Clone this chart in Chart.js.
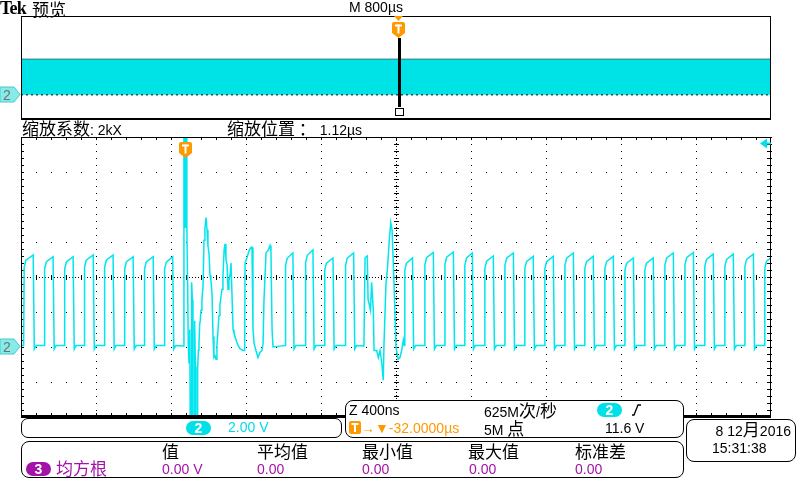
<!DOCTYPE html>
<html>
<head>
<meta charset="utf-8">
<script src="https://cdn.jsdelivr.net/npm/chart.js@4.4.0/dist/chart.umd.min.js"></script>
<style>
  body { margin: 0; width: 800px; height: 480px; background: #fff; overflow: hidden; position: relative;
         font-family: "Liberation Sans", "Noto Sans CJK SC", sans-serif; font-size: 14px; color: #000; }
  canvas { position: absolute; }
  .t { position: absolute; white-space: nowrap; line-height: 18px; height: 18px; }
  .cjk { font-family: "Noto Sans CJK SC", sans-serif; font-size: 17px; }
  .box { position: absolute; border: 1px solid #000; border-radius: 8px; background: #fff; box-sizing: border-box; }
  .pill { position: absolute; border-radius: 7px; color: #fff; font-weight: bold; font-size: 14px;
          text-align: center; line-height: 14px; height: 14px; width: 25px; }
  .cyan { color: #00dce6; }
  .orange { color: #ff9900; }
  .purple { color: #a313a8; }
  svg { position: absolute; overflow: visible; }
</style>
</head>
<body>

<canvas id="preview" width="770" height="123" style="left:11px;top:6px"></canvas>
<canvas id="main" width="770" height="300" style="left:11px;top:127px"></canvas>

<!-- header -->
<div class="t" style="left:0;top:-1px;font-weight:bold;font-size:18px;letter-spacing:-0.8px;font-family:'Liberation Serif',serif">Tek</div>
<div class="t cjk" style="left:32px;top:0">预览</div>
<div class="t" style="left:349px;top:-2px">M 800µs</div>

<div class="t" style="left:22px;top:119px"><span class="cjk">缩放系数</span>: 2kX</div>
<div class="t" style="left:227px;top:119px"><span class="cjk">缩放位置 ：</span> 1.12µs</div>

<!-- channel 2 ground markers -->
<svg style="left:0;top:86px" width="21" height="17">
  <polygon points="0,1 14,1 20,8.5 14,16 0,16" fill="#86ece9" stroke="#4cc9c6"/>
  <text x="3" y="14" font-size="14" font-family="Liberation Sans" fill="#707070">2</text>
</svg>
<svg style="left:0;top:338px" width="21" height="17">
  <polygon points="0,1 14,1 20,8.5 14,16 0,16" fill="#86ece9" stroke="#4cc9c6"/>
  <text x="3" y="14" font-size="14" font-family="Liberation Sans" fill="#707070">2</text>
</svg>

<!-- trigger markers -->
<svg style="left:392px;top:15px" width="14" height="24">
  <polygon points="2,1 11,1 6.5,6" fill="#ff9900"/>
  <path d="M2 7 H11 Q13 7 13 9 V18 L6.5 23 L0 18 V9 Q0 7 2 7 Z" fill="#ff9900"/>
  <rect x="3" y="9.5" width="7" height="2" fill="#fff"/><rect x="5.5" y="9.5" width="2" height="9" fill="#fff"/>
</svg>
<svg style="left:179px;top:142px" width="14" height="17">
  <path d="M2 0 H11 Q13 0 13 2 V11 L6.5 16 L0 11 V2 Q0 0 2 0 Z" fill="#ff9900"/>
  <rect x="3" y="2.5" width="7" height="2" fill="#fff"/><rect x="5.5" y="2.5" width="2" height="9" fill="#fff"/>
</svg>
<svg style="left:759px;top:138px" width="12" height="11">
  <polygon points="1,5.5 8,0.5 8,10.5" fill="#00e0e8"/>
  <rect x="8" y="4.5" width="4" height="2" fill="#00e0e8"/>
</svg>

<!-- info boxes -->
<div class="box" style="left:345px;top:400px;width:339px;height:38px"></div>
<div class="t" style="left:349px;top:401px">Z 400ns</div>
<div class="t" style="left:484px;top:401px">625M<span class="cjk">次</span>/<span class="cjk">秒</span></div>
<div class="pill" style="left:597px;top:403px;background:#00e0e8">2</div>
<svg style="left:630px;top:403px" width="14" height="15">
  <polyline points="2,12 4,12 8,2 11,2" fill="none" stroke="#000" stroke-width="1.3"/>
</svg>
<svg style="left:349px;top:421px" width="12" height="14">
  <rect x="0" y="0" width="12" height="13" rx="2" fill="#ff9900"/>
  <rect x="2.5" y="2" width="7" height="2" fill="#fff"/><rect x="5" y="2" width="2" height="9" fill="#fff"/>
</svg>
<div class="t orange" style="left:361px;top:419px">→▼-32.0000µs</div>
<div class="t" style="left:484px;top:419px">5M <span class="cjk">点</span></div>
<div class="t" style="left:605px;top:419px">11.6 V</div>

<div class="box" style="left:21px;top:418px;width:321px;height:20px;border-radius:7px"></div>
<div class="pill" style="left:186px;top:421px;background:#00e0e8">2</div>
<div class="t cyan" style="left:228px;top:418px">2.00 V</div>

<div class="box" style="left:21px;top:441px;width:663px;height:37px"></div>
<div class="t cjk" style="left:162px;top:442px">值</div>
<div class="t cjk" style="left:257px;top:442px">平均值</div>
<div class="t cjk" style="left:362px;top:442px">最小值</div>
<div class="t cjk" style="left:468px;top:442px">最大值</div>
<div class="t cjk" style="left:575px;top:442px">标准差</div>
<div class="pill" style="left:26px;top:462px;background:#a313a8">3</div>
<div class="t cjk purple" style="left:56px;top:459px">均方根</div>
<div class="t purple" style="left:162px;top:460px">0.00 V</div>
<div class="t purple" style="left:257px;top:460px">0.00</div>
<div class="t purple" style="left:362px;top:460px">0.00</div>
<div class="t purple" style="left:469px;top:460px">0.00</div>
<div class="t purple" style="left:575px;top:460px">0.00</div>

<div class="box" style="left:686px;top:419px;width:110px;height:43px"></div>
<div class="t" style="left:690px;top:420px;width:101px;text-align:right">8 12<span class="cjk">月</span>2016</div>
<div class="t" style="left:712px;top:439px">15:31:38</div>

<script>
// main window: time in ns (400 ns/div), channel 2 in V (2.00 V/div)
const timeTicks = [0, 4000, 400];
const voltTicks = [-4, 12, 2];
const LOW = 0.08;

// regular pulses before the trigger
const preRise = [14, 123, 230, 336, 443, 550, 656, 763];
const preFall = [67, 173, 280, 387, 493, 600, 707, 811];
const preTop = [5.26, 5.16, 5.16, 5.26, 5.26, 5.16, 5.16, 5.15];

// ringing right after the trigger [ns, V]
const burst1 = [
  [867, 0.06], [869, 13], [875, 13], [877, 6.8], [880, 13], [884, 13], [885, 6.9], [889, 3.3],
  [892, 0.2], [896, -0.9], [900, 1.0], [903, -5], [907, -5], [910, 3.7], [914, 2.7], [917, -5],
  [923, -5], [926, 1.5], [930, -1.1], [933, -5], [939, -5], [942, -1.3], [946, -0.2], [949, 0.1],
  [953, 1.3], [956, 1.5], [960, 2.1], [965, 2.7], [971, 3.5], [976, 6.1], [981, 6.8], [987, 7.4],
  [992, 6.7], [997, 5.8], [1003, 5.3], [1008, 4.1], [1013, 3.8], [1019, 3.0], [1024, 0.6], [1029, -0.6],
  [1035, -0.5], [1040, -0.7], [1045, 0.1], [1051, 1.0], [1056, 1.8], [1061, 2.4], [1067, 2.9], [1072, 3.3],
  [1077, 4.0], [1083, 5.5], [1088, 5.9], [1093, 5.0], [1099, 4.7], [1104, 3.3], [1109, 3.8], [1115, 4.1],
  [1120, 4.8], [1125, 4.8], [1131, 1.0], [1136, 0.8], [1147, 0.4], [1157, 0.1], [1168, -0.1], [1184, -0.2],
  [1193, -0.2], [1195, 4.8], [1205, 5.1], [1216, 5.5], [1227, 5.7], [1232, 5.7], [1237, 1.1], [1243, 0.2],
  [1253, -0.2], [1264, -0.6], [1275, -0.3], [1285, -0.2], [1291, 0.2], [1296, 2.7], [1307, 5.4], [1317, 5.5],
  [1328, 5.8], [1333, 5.5], [1339, 1.0], [1344, 0.0], [1381, 0.05]
];

const midRise = [1408, 1515, 1617, 1728];
const midFall = [1452, 1559, 1666, 1776];
const midTop = [5.37, 5.54, 5.09, 5.37];

// second disturbance [ns, V]
const burst2 = [
  [1829, 0.06], [1835, 5.1], [1847, 5.2], [1851, 2.7], [1856, 2.5], [1864, 2.1], [1870, 3.7], [1879, 2.1],
  [1883, -0.2], [1897, -0.2], [1906, -0.6], [1915, -0.2], [1924, -0.9], [1932, -1.9], [1936, 0.2], [1947, 3.7],
  [1954, 4.4], [1964, 6.1], [1972, 7.1], [1979, 6.7], [1989, 3.8], [2000, 0.0], [2011, -0.7], [2021, -0.6],
  [2030, -0.2], [2039, 0.4]
];

const postRise = [2044, 2151, 2258, 2364, 2471, 2578, 2684, 2791, 2898, 3004, 3111, 3218, 3324, 3431, 3538, 3644, 3751, 3858, 3964];
const postFall = [2090, 2201, 2308, 2409, 2521, 2628, 2734, 2841, 2948, 3054, 3161, 3268, 3374, 3481, 3588, 3694, 3801, 3908, 4014];
const postTop = [5.09, 5.4, 5.43, 5.37, 5.2, 5.37, 5.18, 5.18, 5.37, 5.18, 5.18, 5.09, 5.09, 5.37, 5.4, 5.31, 5.31, 5.31, 5.2];

// preview (800 µs/div, whole record shown as an envelope)
const previewMs = [0, 8];
const previewHigh = [5.3, 5.3];
const previewLow = [-0.25, -0.25];
const zoomWindowMs = [4.035, 4.04];

function pushPulses(pts, rises, falls, tops) {
  rises.forEach((r, i) => {
    const f = falls[i], top = tops[i];
    pts.push({x: r, y: LOW}, {x: r + 3, y: top - 0.7}, {x: r + 12, y: top - 0.3},
             {x: f - 2, y: top}, {x: f + 4, y: LOW - 0.2}, {x: f + 14, y: LOW});
  });
}
const pushPoints = (pts, list) => list.forEach(([x, y]) => pts.push({x, y}));

const trace = [{x: 0, y: LOW}];
pushPulses(trace, preRise, preFall, preTop);
pushPoints(trace, burst1);
pushPulses(trace, midRise, midFall, midTop);
pushPoints(trace, burst2);
pushPulses(trace, postRise, postFall, postTop);

const CYAN = '#00e5ee';

/**
 * Tek style graticule: dense centre lines, ticks and frame
 */
const graticule = {
  id: 'graticule',
  beforeDatasetsDraw(chart) {
    const {ctx, chartArea: a, scales: {x, y}} = chart;
    const cx = Math.round(x.getPixelForValue(2000));
    const cy = Math.round(y.getPixelForValue(4));
    const stepX = (a.right - a.left) / 50, stepY = (a.bottom - a.top) / 40;
    ctx.save();
    ctx.fillStyle = '#000';
    for (let px = a.left; px < a.right; px += 3) ctx.fillRect(Math.round(px), cy, 1, 1);
    for (let py = a.top; py < a.bottom; py += 3) ctx.fillRect(cx, Math.round(py), 1, 1);
    for (let i = 1; i < 50; i++) {
      const px = Math.round(a.left + i * stepX);
      ctx.fillRect(px, cy - 2, 1, 5);
      ctx.fillRect(px, a.top, 1, 3);
      ctx.fillRect(px, a.bottom - 4, 1, 3);
    }
    for (let i = 1; i < 40; i++) {
      const py = Math.round(a.top + i * stepY);
      ctx.fillRect(cx - 2, py, 5, 1);
      ctx.fillRect(a.left, py, 3, 1);
      ctx.fillRect(a.right - 4, py, 3, 1);
    }
    ctx.restore();
  },
  afterDatasetsDraw(chart) {
    const {ctx, chartArea: a} = chart;
    ctx.save();
    ctx.fillStyle = '#000';
    ctx.fillRect(a.left, a.top, a.right - a.left, 1);
    ctx.fillRect(a.left, a.top, 1, a.bottom - a.top);
    ctx.fillRect(a.right - 1, a.top, 1, a.bottom - a.top);
    ctx.fillRect(a.left, a.bottom - 2, a.right - a.left, 3);
    ctx.restore();
  }
};

new Chart(document.getElementById('main'), {
  type: 'line',
  data: {
    datasets: [{
      data: trace,
      borderColor: CYAN,
      borderWidth: 1.5,
      pointRadius: 0,
      tension: 0,
      clip: 0
    }]
  },
  options: {
    responsive: false,
    animation: false,
    layout: { padding: 10 },
    plugins: { legend: { display: false }, tooltip: { enabled: false } },
    scales: {
      x: {
        type: 'linear', min: timeTicks[0], max: timeTicks[1],
        ticks: { display: false, stepSize: timeTicks[2] },
        grid: { color: '#000', lineWidth: 1, drawTicks: false },
        border: { display: false, dash: [1, 6] }
      },
      y: {
        min: voltTicks[0], max: voltTicks[1],
        ticks: { display: false, stepSize: voltTicks[2] },
        grid: { color: '#000', lineWidth: 1, drawTicks: false },
        border: { display: false, dash: [1, 14] }
      }
    }
  },
  plugins: [graticule]
});

/**
 * Preview frame and zoom window bar
 */
const previewMarks = {
  id: 'previewMarks',
  afterDatasetsDraw(chart) {
    const {ctx, chartArea: a, scales: {x}} = chart;
    const x0 = Math.round(x.getPixelForValue(zoomWindowMs[0]));
    const x1 = Math.round(x.getPixelForValue(zoomWindowMs[1]));
    ctx.save();
    ctx.fillStyle = '#000';
    ctx.fillRect(x0 - 1, a.top + 22, Math.max(3, x1 - x0), a.bottom - a.top - 34);
    ctx.strokeStyle = '#000';
    ctx.lineWidth = 1;
    ctx.strokeRect(x0 - 3.5, a.bottom - 10.5, 8, 7);
    ctx.fillRect(a.left, a.top, a.right - a.left, 1);
    ctx.fillRect(a.left, a.bottom - 1, a.right - a.left, 2);
    ctx.fillRect(a.left, a.top, 1, a.bottom - a.top);
    ctx.fillRect(a.right - 1, a.top, 1, a.bottom - a.top);
    ctx.restore();
  }
};

new Chart(document.getElementById('preview'), {
  type: 'line',
  data: {
    labels: previewMs,
    datasets: [{
      data: previewMs.map((t, i) => ({x: t, y: previewLow[i]})),
      borderColor: '#000',
      borderWidth: 1,
      borderDash: [2, 3],
      pointRadius: 0,
      fill: false
    }, {
      data: previewMs.map((t, i) => ({x: t, y: previewHigh[i]})),
      borderColor: '#0b7d82',
      borderWidth: 1,
      backgroundColor: '#00e3e6',
      pointRadius: 0,
      fill: '-1'
    }]
  },
  options: {
    responsive: false,
    animation: false,
    layout: { padding: 10 },
    plugins: { legend: { display: false }, tooltip: { enabled: false } },
    scales: {
      x: { type: 'linear', min: previewMs[0], max: previewMs[1], display: false },
      y: { min: voltTicks[0], max: voltTicks[1], display: false }
    }
  },
  plugins: [previewMarks]
});
</script>
</body>
</html>
